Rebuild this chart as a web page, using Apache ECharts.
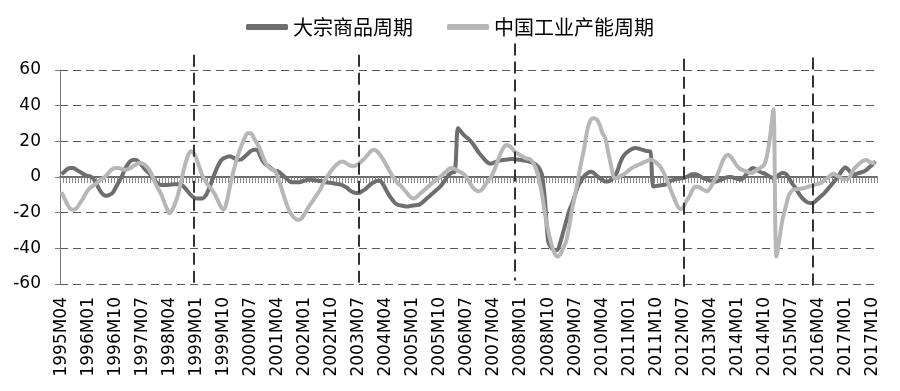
<!DOCTYPE html>
<html>
<head>
<meta charset="utf-8">
<script src="https://cdn.jsdelivr.net/npm/echarts@6/dist/echarts.min.js"></script>
<style>html,body{margin:0;padding:0;background:#fff;}#c{width:900px;height:391px;}</style>
</head>
<body>
<div id="c"></div>
<script>
// Month categories: 1995M04 .. 2017M11
const startYear = 1995, startMonth = 4, monthCount = 272;
const months = [];
for (let i = 0; i < monthCount; i++) {
  const m = startMonth - 1 + i;
  const y = startYear + Math.floor(m / 12);
  const mo = (m % 12) + 1;
  months.push(y + 'M' + (mo < 10 ? '0' : '') + mo);
}

const seriesNames = ['大宗商品周期', '中国工业产能周期'];

// 大宗商品周期
const commodityCycle = [
  1.5, 3, 4.5, 5, 5, 4, 3, 2, 1, 0.5, 0, -2,
  -5, -8, -10, -10.5, -10, -9, -6, -3, 0, 4, 7, 9,
  9.7, 9.5, 8, 6, 4, 2.5, 0.5, -2, -3.5, -4.4, -4.5, -4.5,
  -4.3, -4.2, -4, -4, -4.5, -6, -8, -10, -11.5, -12, -12, -12,
  -10.5, -7, -2.5, 2, 6, 9, 10.5, 11.2, 11.6, 11, 10, 9.7,
  10, 11.5, 13, 14.5, 15.3, 15.3, 12.5, 9, 7, 6, 4.5, 3.5,
  3.2, 2, 0.5, -1, -2.5, -3, -3, -3, -2.5, -2, -1.5, -1.5,
  -1.8, -2, -2.2, -2.5, -3, -3.2, -3.4, -3.6, -4, -4.3, -5, -6,
  -7.5, -8.5, -9, -9, -8, -7, -5.5, -4, -3, -2.2, -2, -4,
  -7, -10, -12.5, -14.5, -15.6, -16, -16.3, -16.5, -16.3, -16, -15.8, -15.6,
  -14.5, -13, -11.5, -10, -8.5, -7, -5.5, -3.5, -1, 1.3, 2.5, 3.1,
  27.5, 25.5, 23.5, 22, 20.5, 18.5, 16, 13.5, 11.5, 9.5, 8, 7.5,
  8, 8.7, 9.2, 9.5, 9.7, 10, 10.1, 10, 9.8, 9.5, 9.2, 9,
  8.5, 7.8, 6.9, 5, 1, -14, -36, -39.5, -41, -41, -37, -31,
  -25, -19, -15, -10, -5, -2, 0.5, 2, 3, 2.5, 1, -0.5,
  -1.5, -2.5, -2.5, -1.5, 0, 3, 8, 11.5, 13.5, 14.8, 15.8, 16.3,
  16, 15.5, 15, 14.5, 14.4, -5.3, -5, -4.8, -4.5, -4.3, -3.5, -2,
  -1.5, -1, -0.8, -0.6, 0, 0.8, 1.5, 1.6, 1, 0, -1, -1.5,
  -2, -2.3, -2.5, -2, -1.2, -0.5, 0, 0, -0.5, -1, -1.5, -0.5,
  1.5, 3.5, 5, 4.5, 3.5, 2.5, 2, 1, 0, -0.6, 0, 1.5,
  2.2, 2, 0, -3, -5.3, -8, -10.5, -12.5, -13.8, -14.5, -14.6, -13.5,
  -12, -10.5, -9, -7, -5, -3, -1, 1.5, 4, 5.5, 4, 2,
  1.5, 2, 2.5, 3, 4, 5.5, 7, 8.7
];

// 中国工业产能周期
const capacityCycle = [
  -8.5, -12, -15.5, -17.8, -18.4, -17.5, -15, -12.5, -9.5, -7, -5.5, -4.3,
  -3, -1.5, -0.5, 1, 3, 4.5, 5, 5, 4.5, 4, 4.3, 5,
  6.2, 7.3, 7.9, 7.5, 6.5, 4.5, 1.5, -2.5, -6, -9, -13, -17.5,
  -20.3, -18, -14, -8.5, -1, 6, 11.5, 14.4, 13.5, 10, 5, 0.5,
  -2.5, -5, -7, -9.5, -13, -16.5, -18.4, -14, -6, 1.5, 8, 13.5,
  18, 22, 24.5, 24.5, 22, 19, 16, 11.5, 7.8, 5.5, 4.2, 3.6,
  0, -5, -10.5, -15.5, -19.5, -22, -23.5, -24, -23, -20.5, -17.5, -15,
  -12.5, -10, -7.5, -4, -1, 1.5, 4, 6, 7.5, 8.5, 8.5, 7.5,
  6.5, 6, 6.5, 7.5, 9, 10.5, 12.5, 14.5, 15.3, 14.5, 12.5, 10,
  7, 4, 1, -1.5, -3.5, -5, -7, -9, -11, -12, -11.5, -10,
  -8.5, -7, -5.5, -4, -2.5, -1.5, 0, 1.5, 3, 4.5, 5, 4.5,
  3.5, 2.5, 1.5, -0.5, -3.5, -6, -7.5, -8, -7, -4.5, -2, 0,
  3.5, 8, 12.5, 16, 18, 17.5, 16, 14, 13, 12, 11, 10.3,
  10, 8, 4.5, -2, -10, -21, -30, -37, -42, -44.6, -43.5, -40,
  -36, -28, -18, -10, -1, 8, 16, 26, 31.5, 33, 32.5, 30,
  25, 22, 14, 6, -0.5, -0.6, 0.5, 1.3, 2.5, 4, 5.2, 6,
  6.8, 7.5, 8.3, 9, 9.7, 9.3, 8, 6.5, 4, 0.5, -3.5, -8,
  -12, -16, -18, -17, -13.5, -11, -7.5, -5.5, -5.5, -6.5, -7.5, -8,
  -6, -3, 0, 4, 8.5, 11.5, 12.5, 11, 8.5, 6, 4.5, 3.8,
  3.1, 2.6, 2.2, 3.5, 4.5, 5.5, 7, 13, 24, 38, -44.6, -35,
  -24, -17.4, -11, -8, -7, -6.8, -6.6, -6.3, -5.8, -5.2, -4.8, -4.3,
  -3.8, -3.2, -1.8, -0.6, 1, 2, 1, 0, -1, -1.3, -1, 2,
  5, 6.5, 8, 9.2, 9.5, 8.5, 7.9, 7.9
];

// Vertical dashed cycle-break lines
const breakMonths = ['1998M12', '2003M07', '2007M11', '2012M07', '2016M02'];
const breakTop = [68.6, 68.6, 74.8, 66.3, 67];
const breakBottom = [-62.6, -61.5, -58, -63, -62.6];

const yTicks = { min: -60, max: 60, interval: 20 };

const chart = echarts.init(document.getElementById('c'), null, { renderer: 'canvas' });

const breakLines = breakMonths.map((m, i) => [
  { coord: [m, breakTop[i]] },
  { coord: [m, breakBottom[i]] }
]);

const option = {
  animation: false,
  backgroundColor: '#ffffff',
  legend: {
    top: 12,
    left: 'center',
    icon: 'roundRect',
    itemWidth: 42,
    itemHeight: 6,
    itemGap: 34,
    textStyle: { fontFamily: 'Noto Sans CJK SC', fontSize: 20, color: '#000' },
    data: seriesNames
  },
  grid: [
    { left: 60, right: 23, top: 70, bottom: 107 },
    { left: 60, right: 23, top: 34.33, bottom: 71.33 }
  ],
  xAxis: [
    {
      type: 'category', gridIndex: 0, data: months, boundaryGap: true,
      axisLine: { onZero: true, lineStyle: { color: '#6b6b6b', width: 2 } },
      axisTick: { show: true, interval: 0, length: 6, lineStyle: { color: '#8a8a8a', width: 1 } },
      axisLabel: { show: false },
      splitLine: { show: false }
    },
    {
      type: 'category', gridIndex: 0, data: months, boundaryGap: true, position: 'bottom',
      axisLine: { show: false, onZero: false },
      axisTick: { show: false },
      axisLabel: {
        interval: 8, rotate: 90, margin: 13,
        fontFamily: 'DejaVu Sans', fontSize: 17, color: '#000'
      },
      splitLine: { show: false }
    },
    {
      type: 'category', gridIndex: 1, data: months, boundaryGap: true, show: false
    }
  ],
  yAxis: [
    {
      type: 'value', gridIndex: 0, min: yTicks.min, max: yTicks.max, interval: yTicks.interval,
      axisLine: { show: true, lineStyle: { color: '#7a7a7a', width: 1 } },
      axisTick: { show: true, length: 5, lineStyle: { color: '#7a7a7a' } },
      axisLabel: { fontFamily: 'DejaVu Sans', fontSize: 17, color: '#000', margin: 19 },
      splitLine: { show: true, lineStyle: { color: '#5a5a5a', width: 1, type: [8, 5] } }
    },
    {
      type: 'value', gridIndex: 1, min: -80, max: 80, show: false
    }
  ],
  series: [
    {
      name: seriesNames[0], type: 'line', xAxisIndex: 0, yAxisIndex: 0,
      data: commodityCycle, showSymbol: false, smooth: 0.3,
      color: '#6e6e6e',
      lineStyle: { color: '#6e6e6e', width: 4 },
      z: 3
    },
    {
      name: seriesNames[1], type: 'line', xAxisIndex: 0, yAxisIndex: 0,
      data: capacityCycle, showSymbol: false, smooth: 0.3,
      color: '#b7b7b7',
      lineStyle: { color: '#b7b7b7', width: 4 },
      z: 4
    },
    {
      name: 'breaks', type: 'line', xAxisIndex: 2, yAxisIndex: 1,
      data: [], silent: true,
      markLine: {
        silent: true, symbol: ['none', 'none'],
        label: { show: false },
        lineStyle: { color: '#333333', width: 2, type: [12, 6] },
        data: breakLines
      },
      z: 5
    }
  ]
};
chart.setOption(option);
</script>
</body>
</html>
